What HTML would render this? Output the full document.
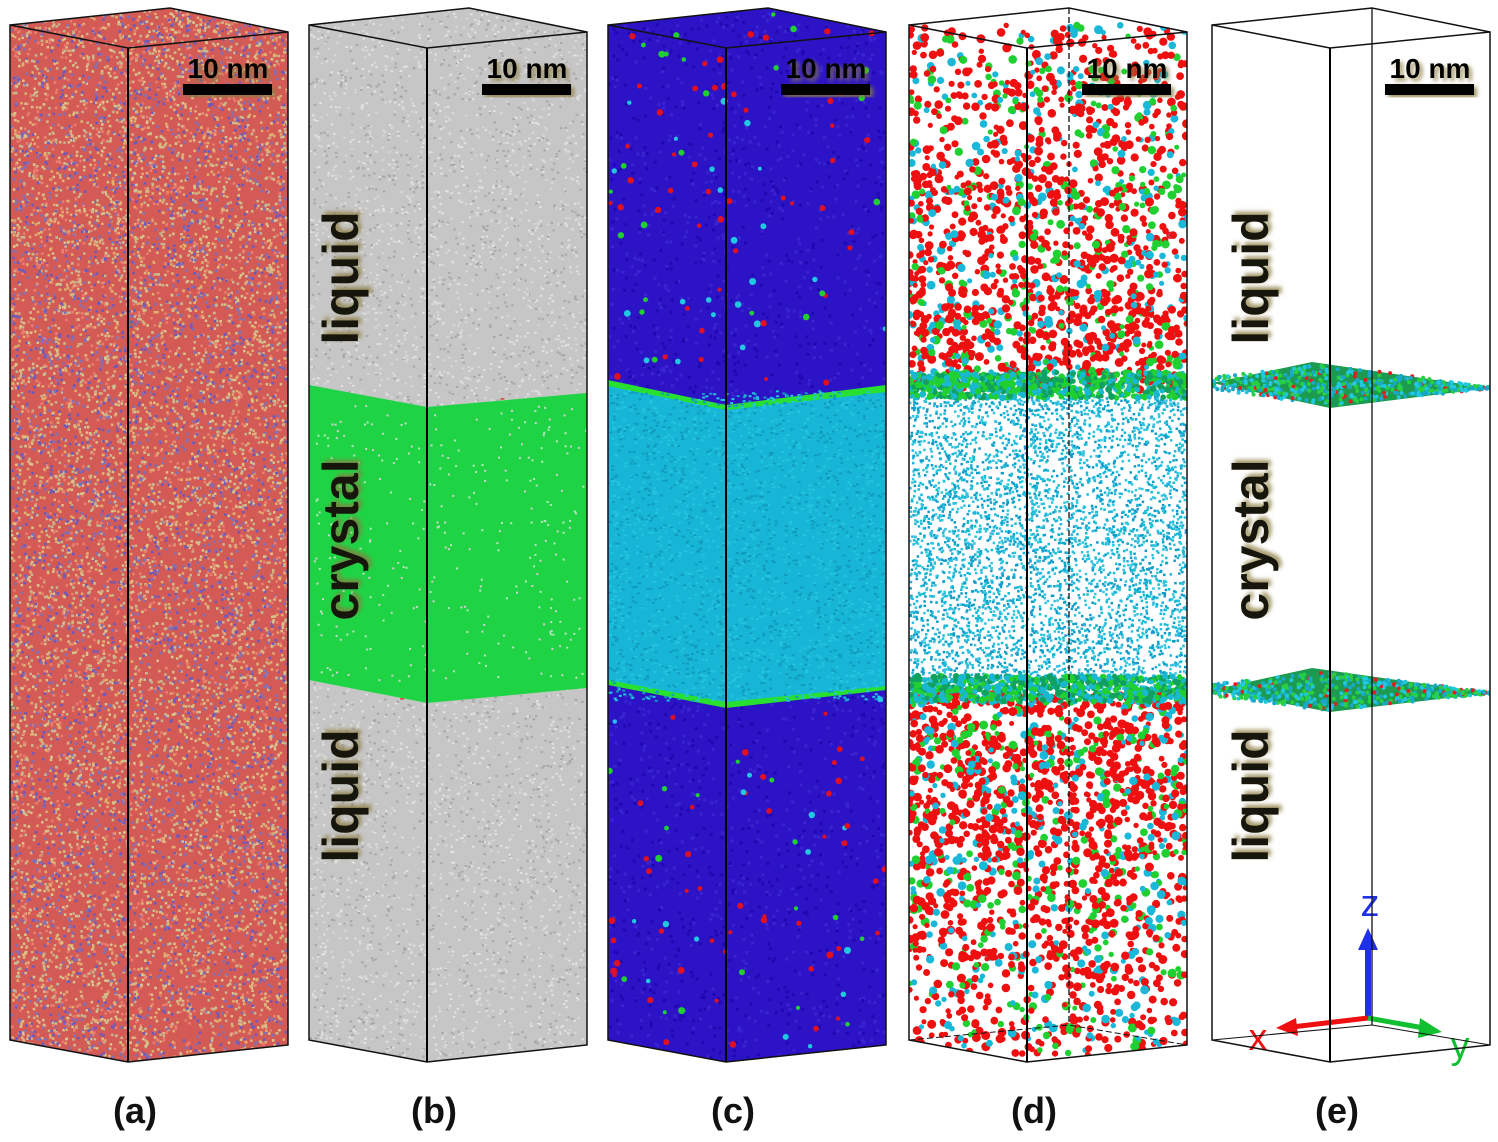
<!DOCTYPE html>
<html><head><meta charset="utf-8">
<style>
html,body{margin:0;padding:0;background:#fff;}
svg{display:block;}
.lbl{font-family:"Liberation Sans",sans-serif;font-weight:bold;}
</style></head>
<body>
<svg id="fig" width="1498" height="1142" viewBox="0 0 1498 1142" xmlns="http://www.w3.org/2000/svg">
<defs>
<filter id="sh" x="-20%" y="-20%" width="140%" height="140%"><feDropShadow dx="3" dy="3" stdDeviation="2" flood-color="#8a7a40" flood-opacity="0.8"/></filter>
<clipPath id="boxclip"><polygon points="10,25 170,8 288,32 288,1045 128,1062 10,1040"/></clipPath>
</defs>
</svg>
<script>
const NS='http://www.w3.org/2000/svg';
const svg=document.getElementById('fig');
const panelOffsets=[0,299,598,899,1202];
const panelLabels=['(a)','(b)','(c)','(d)','(e)'];
let seed=12345;
function rnd(){seed=(seed*1103515245+12345)%2147483648;return seed/2147483648;}
function mk(tag,attrs,parent){const e=document.createElementNS(NS,tag);for(const k in attrs)e.setAttribute(k,attrs[k]);(parent||svg).appendChild(e);return e;}
function bandY(x,l,f,r){ if(x<128) return l+(f-l)*(x-10)/118; return f+(r-f)*(x-128)/160;}
function speckles(g,n,colors,y0,y1,w,h,cond){
  for(let i=0;i<n;i++){const x=10+rnd()*278;const y=y0+rnd()*(y1-y0);
    if(cond&&!cond(x,y))continue;
    mk('rect',{x:x.toFixed(1),y:y.toFixed(1),width:w,height:h,fill:colors[Math.floor(rnd()*colors.length)]},g);}
}
function blobs(g,n,colors,y0,y1,rmin,rmax,cond){
  for(let i=0;i<n;i++){const x=10+rnd()*278;const y=y0+rnd()*(y1-y0);
    if(cond&&!cond(x,y))continue;
    mk('circle',{cx:x.toFixed(1),cy:y.toFixed(1),r:(rmin+rnd()*(rmax-rmin)).toFixed(1),fill:colors[Math.floor(rnd()*colors.length)]},g);}
}
function band(g,tl,tf,tr,bl,bf,br,fill){
  return mk('polygon',{points:`10,${tl} 128,${tf} 288,${tr} 288,${br} 128,${bf} 10,${bl}`,fill:fill},g);
}
function edges(g,dashedBack,showBack){
  mk('polygon',{points:'10,25 170,8 288,32 288,1045 128,1062 10,1040',fill:'none',stroke:'#111','stroke-width':1.5},g);
  mk('polyline',{points:'10,25 128,48 288,32',fill:'none',stroke:'#111','stroke-width':1.5},g);
  mk('line',{x1:128,y1:48,x2:128,y2:1062,stroke:'#000','stroke-width':2},g);
  if(showBack){mk('line',{x1:170,y1:8,x2:170,y2:1025,stroke:'#111','stroke-width':1.3,'stroke-dasharray':dashedBack?'6,3':'none'},g);
    mk('polyline',{points:'10,1040 170,1025 288,1045',fill:'none',stroke:'#111','stroke-width':1,'stroke-dasharray':dashedBack?'6,3':'none'},g);}
}
function scaleBar(g){
  const t=mk('text',{x:228,y:78,'text-anchor':'middle','font-size':28,fill:'#000',class:'lbl',filter:'url(#sh)'},g);
  t.textContent='10 nm';
  
  
  const r=mk('rect',{x:183,y:84,width:89,height:11,fill:'#000',filter:'url(#sh)'},g);
  
  
}
function phaseLabels(g,x){
  const items=[['liquid',278],['crystal',540],['liquid',796]];
  items.forEach(([s,y])=>{
    const t=mk('text',{x:0,y:0,transform:`translate(${x},${y}) rotate(-90)`,'text-anchor':'middle','font-size':50,fill:'#15150a',class:'lbl',filter:'url(#sh)'},g);
    t.textContent=s;
    
    
  });
}
panelOffsets.forEach((dx,i)=>{
  const g=mk('g',{transform:`translate(${dx},0)`});
  
  
  const c=mk('g',{'clip-path':'url(#boxclip)'},g);
  if(i===0){
    mk('rect',{x:0,y:0,width:300,height:1070,fill:'#d45a55'},c);
    speckles(c,16000,['#d8c48c','#e0b070','#6a5ac0','#8070b8','#e88070','#c8b890'],5,1065,2.5,2.5);
  } else if(i===1){
    mk('rect',{x:0,y:0,width:300,height:1070,fill:'#c6c6c6'},c);
    speckles(c,6000,['#e2e2e2','#a8a8a8','#d8d8d8'],5,1065,2.5,2);
    band(c,385,407,393,680,703,688,'#1ed445');
    speckles(c,300,['#b8e8b8','#d0d0d0'],400,680,2,2,(x,y)=>y>bandY(x,385,407,393)+5&&y<bandY(x,680,703,688)-5);
    speckles(c,60,['#e04040'],380,710,4,1.5,(x,y)=>Math.abs(y-bandY(x,385,407,393))<4||Math.abs(y-bandY(x,680,703,688))<4);
    phaseLabels(g,59);
  } else if(i===2){
    mk('rect',{x:0,y:0,width:300,height:1070,fill:'#2c14c6'},c);
    speckles(c,2500,['#3a24d0','#2008b0'],5,1065,3,3);
    band(c,380,405,385,685,708,690,'#28e030');
    band(c,386,410,392,680,702,686,'#18b6d6');
    speckles(c,2500,['#22c4e0','#109cc0'],390,700,3,2);
    blobs(c,240,['#e01020','#e01020','#e01020','#20d030','#20c8e0'],10,1060,2,3.5,(x,y)=>y<bandY(x,380,405,385)-3||y>bandY(x,685,708,690)+3);
  } else if(i===3){
    blobs(c,2600,['#ee1010','#ee1010','#ee1010','#ee1010','#20d030','#1ab8d8'],25,390,2.5,4.5,(x,y)=>rnd()<0.35+0.65*(y-25)/360);
    blobs(c,2600,['#ee1010','#ee1010','#ee1010','#ee1010','#20d030','#1ab8d8'],690,1055,2.5,4.5,(x,y)=>rnd()<1-0.55*(y-690)/365);
    speckles(c,4500,['#18b8d8','#30c4e0','#109cc8'],395,690,2.5,2.5);
    blobs(c,700,['#20d030','#18b8d0','#10a060'],372,398,2,3.5);
    blobs(c,700,['#20d030','#18b8d0','#10a060'],676,702,2,3.5);
  } else {
    [[383,362,388,408],[690,668,693,712]].forEach(([yl,yt,yr,yb])=>{
      mk('polygon',{points:`10,${yl} 110,${yt} 288,${yr} 128,${yb}`,fill:'#1c9a50'},c);
      for(let k=0;k<500;k++){const u=rnd(),v=rnd();
        const x=10+u*278; const ym=yl+(yr-yl)*u; const hh=(yb-yt)/2*(1-Math.abs(u-0.42)/0.6);
        const y=ym+(v-0.5)*2*hh*0.9;
        mk('circle',{cx:x.toFixed(1),cy:y.toFixed(1),r:2,fill:['#20c8e0','#28d040','#18a8c8','#e02020'][k%13===0?3:k%3]},c);}
    });
    phaseLabels(g,66);
    const ax=mk('g',{},g);
    
    
    mk('line',{x1:166,y1:1018,x2:166,y2:948,stroke:'#2030e8','stroke-width':6},ax);
    mk('polygon',{points:'156,950 166,928 176,950',fill:'#2030e8'},ax);
    mk('line',{x1:166,y1:1018,x2:90,y2:1027,stroke:'#ee1010','stroke-width':5},ax);
    mk('polygon',{points:'94,1018 74,1028 96,1036',fill:'#ee1010'},ax);
    mk('line',{x1:166,y1:1018,x2:222,y2:1028,stroke:'#10c030','stroke-width':5},ax);
    mk('polygon',{points:'218,1018 240,1032 216,1038',fill:'#10c030'},ax);
    [['z',168,916,'#2030e8'],['x',56,1050,'#ee1010'],['y',258,1058,'#10c030']].forEach(([s,x,y,col])=>{
      const t=mk('text',{x:x,y:y,'text-anchor':'middle','font-size':38,fill:col,'font-family':'Liberation Sans, sans-serif'},ax);
      t.textContent=s;
      
      
    });
  }
  edges(g,i===3,i>=3);
  scaleBar(g);
  const lb=mk('text',{x:135,y:1123,'text-anchor':'middle','font-size':36,fill:'#111',class:'lbl'},g);
  lb.textContent=panelLabels[i];
  
  
});
</script>
</body></html>
